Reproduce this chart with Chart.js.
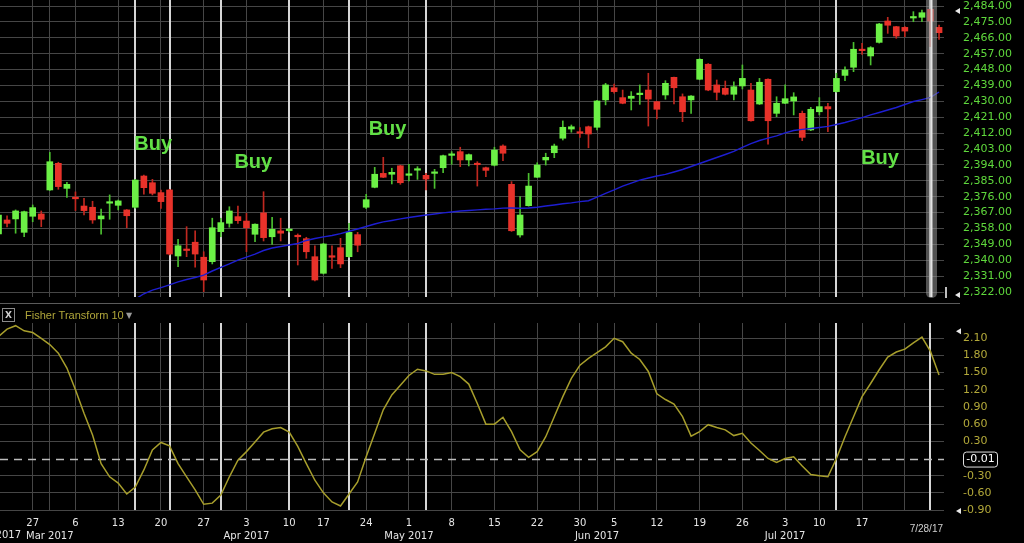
<!DOCTYPE html>
<html>
<head>
<meta charset="utf-8">
<script src="https://cdn.jsdelivr.net/npm/chart.js@4.4.1/dist/chart.umd.min.js"></script>
<style>
  html, body { margin: 0; padding: 0; background: #000; }
  #wrap { position: relative; width: 1024px; height: 543px; overflow: hidden; background: #000; }
  #priceChart { position: absolute; left: 0; top: 0; }
  #fisherChart { position: absolute; left: 0; top: 300px; }
</style>
</head>
<body>
<div id="wrap">
  <canvas id="priceChart" width="1024" height="300"></canvas>
  <canvas id="fisherChart" width="1024" height="243"></canvas>
</div>
<script>
// ---- data ----
const YEAR = 2017;

const tradingDays = [
  '2/21','2/22','2/23','2/24','2/27','2/28',
  '3/1','3/2','3/3','3/6','3/7','3/8','3/9','3/10','3/13','3/14','3/15','3/16','3/17',
  '3/20','3/21','3/22','3/23','3/24','3/27','3/28','3/29','3/30','3/31',
  '4/3','4/4','4/5','4/6','4/7','4/10','4/11','4/12','4/13','4/17','4/18','4/19','4/20','4/21',
  '4/24','4/25','4/26','4/27','4/28',
  '5/1','5/2','5/3','5/4','5/5','5/8','5/9','5/10','5/11','5/12','5/15','5/16','5/17','5/18','5/19',
  '5/22','5/23','5/24','5/25','5/26','5/30','5/31',
  '6/1','6/2','6/5','6/6','6/7','6/8','6/9','6/12','6/13','6/14','6/15','6/16',
  '6/19','6/20','6/21','6/22','6/23','6/26','6/27','6/28','6/29','6/30',
  '7/3','7/5','7/6','7/7','7/10','7/11','7/12','7/13','7/14','7/17','7/18','7/19','7/20','7/21',
  '7/24','7/25','7/26','7/27','7/28'
];

const opens = [
  2354.9, 2362.8, 2363.4, 2355.8, 2364.9, 2366.2, 2379.8, 2394.9, 2380.7, 2375.3,
  2370.7, 2370.0, 2363.4, 2372.3, 2371.1, 2368.5, 2370.0, 2387.7, 2383.9, 2378.3,
  2379.8, 2342.4, 2346.0, 2350.2, 2341.7, 2339.2, 2356.2, 2360.9, 2364.7, 2362.2,
  2354.7, 2366.8, 2353.3, 2356.6, 2356.8, 2353.9, 2352.2, 2342.0, 2332.6, 2342.4,
  2347.1, 2342.0, 2354.5, 2370.0, 2381.3, 2389.2, 2388.7, 2393.5, 2388.1, 2391.0,
  2388.1, 2389.2, 2392.4, 2399.4, 2401.5, 2396.8, 2394.9, 2392.4, 2393.8, 2404.7,
  2383.0, 2354.3, 2370.9, 2387.0, 2396.8, 2400.9, 2409.1, 2414.3, 2412.8, 2415.6,
  2415.3, 2430.8, 2437.7, 2432.1, 2431.7, 2433.8, 2436.4, 2429.8, 2433.6, 2443.6,
  2432.6, 2430.8, 2442.5, 2451.0, 2439.3, 2437.4, 2434.0, 2438.7, 2436.4, 2428.5,
  2442.5, 2423.2, 2428.9, 2430.2, 2423.2, 2413.8, 2424.1, 2427.0, 2435.5, 2444.7,
  2449.3, 2459.5, 2455.7, 2463.4, 2475.5, 2472.3, 2471.9, 2477.2, 2477.6, 2482.1,
  2471.9
];
const highs = [
  2366.8, 2365.1, 2368.5, 2367.9, 2371.3, 2367.9, 2401.1, 2395.5, 2384.1, 2378.7,
  2375.1, 2373.4, 2369.0, 2377.0, 2374.1, 2368.7, 2385.8, 2388.3, 2385.8, 2379.8,
  2380.2, 2351.9, 2359.0, 2356.7, 2344.8, 2363.8, 2363.8, 2370.3, 2370.7, 2366.6,
  2360.6, 2378.8, 2364.3, 2363.8, 2357.8, 2354.9, 2353.0, 2348.1, 2349.6, 2348.1,
  2352.4, 2360.9, 2355.8, 2377.3, 2392.6, 2398.3, 2392.1, 2393.8, 2394.3, 2393.0,
  2389.2, 2391.5, 2399.5, 2401.5, 2404.0, 2400.2, 2395.8, 2392.8, 2404.0, 2405.3,
  2384.5, 2376.0, 2389.2, 2395.2, 2400.6, 2405.8, 2418.9, 2416.6, 2415.1, 2416.0,
  2430.6, 2440.2, 2439.8, 2436.4, 2435.5, 2439.3, 2445.9, 2430.0, 2441.7, 2443.8,
  2434.2, 2433.2, 2454.2, 2451.4, 2442.1, 2441.5, 2441.1, 2450.6, 2440.2, 2443.0,
  2442.8, 2432.6, 2439.3, 2434.9, 2424.5, 2426.6, 2432.1, 2428.9, 2445.9, 2449.6,
  2463.4, 2462.9, 2461.0, 2474.2, 2477.6, 2472.5, 2472.3, 2480.8, 2481.7, 2482.3,
  2473.2
];
const lows = [
  2353.7, 2358.8, 2355.3, 2353.3, 2361.8, 2359.0, 2379.5, 2380.2, 2375.6, 2368.1,
  2365.6, 2360.9, 2354.7, 2363.2, 2368.5, 2358.4, 2369.5, 2377.4, 2377.0, 2369.4,
  2343.0, 2336.3, 2342.0, 2336.0, 2322.2, 2337.9, 2353.3, 2358.7, 2360.9, 2344.8,
  2350.5, 2350.9, 2349.0, 2350.9, 2356.0, 2337.3, 2341.1, 2328.3, 2332.2, 2335.4,
  2335.8, 2341.7, 2344.8, 2369.2, 2381.0, 2386.8, 2383.2, 2383.0, 2384.9, 2385.8,
  2379.8, 2380.7, 2389.6, 2394.3, 2393.0, 2393.4, 2382.0, 2387.3, 2393.4, 2396.4,
  2356.3, 2353.0, 2370.6, 2386.8, 2393.9, 2398.1, 2408.1, 2412.5, 2409.6, 2403.7,
  2413.8, 2428.0, 2434.6, 2428.6, 2425.1, 2428.3, 2416.0, 2420.0, 2431.2, 2428.5,
  2418.5, 2423.2, 2442.2, 2436.0, 2430.8, 2433.6, 2430.8, 2437.0, 2418.7, 2428.2,
  2405.8, 2421.3, 2428.7, 2422.3, 2407.7, 2413.4, 2422.3, 2412.8, 2435.2, 2441.7,
  2446.8, 2456.6, 2450.6, 2463.0, 2468.5, 2465.7, 2466.6, 2475.1, 2475.1, 2461.0,
  2465.1
];
const closes = [
  2365.6, 2360.9, 2367.9, 2367.5, 2369.8, 2363.2, 2395.8, 2381.7, 2383.0, 2374.8,
  2368.1, 2362.8, 2365.1, 2373.0, 2373.6, 2365.2, 2385.4, 2381.1, 2377.9, 2373.2,
  2343.5, 2348.2, 2345.5, 2343.5, 2328.8, 2358.4, 2361.3, 2367.9, 2362.4, 2358.4,
  2360.4, 2352.8, 2357.5, 2355.3, 2357.3, 2353.3, 2344.8, 2328.8, 2349.2, 2341.7,
  2337.9, 2355.8, 2348.5, 2374.3, 2388.7, 2387.0, 2389.8, 2383.9, 2388.8, 2391.5,
  2386.0, 2389.9, 2399.2, 2400.0, 2396.8, 2399.8, 2394.1, 2390.9, 2402.4, 2400.6,
  2356.7, 2365.6, 2382.0, 2393.9, 2398.3, 2404.7, 2415.3, 2415.6, 2411.9, 2411.5,
  2430.2, 2439.3, 2435.5, 2428.9, 2432.9, 2434.6, 2431.3, 2425.5, 2440.2, 2437.7,
  2424.1, 2433.0, 2453.8, 2436.4, 2435.1, 2434.0, 2438.3, 2443.0, 2419.0, 2440.8,
  2419.0, 2428.9, 2431.5, 2432.5, 2409.6, 2425.5, 2427.0, 2425.7, 2443.0, 2447.8,
  2459.5, 2458.7, 2460.4, 2473.8, 2473.1, 2467.0, 2469.8, 2477.9, 2480.2, 2475.5,
  2468.9
];

// moving average (blue), starts on 3/15
const movingAvg = [
  null, null, null, null, null, null, null, null, null, null,
  null, null, null, null, null, null, 2318.0, 2321.0, 2323.1, 2324.5,
  2326.0, 2327.7, 2329.1, 2330.2, 2331.6, 2333.9, 2335.9, 2337.9, 2340.1, 2341.8,
  2343.5, 2345.5, 2346.9, 2347.8, 2348.6, 2349.5, 2351.2, 2352.3, 2353.2, 2354.0,
  2355.1, 2356.4, 2357.7, 2359.1, 2360.5, 2361.7, 2362.5, 2363.4, 2364.2, 2364.9,
  2365.6, 2366.2, 2366.8, 2367.3, 2367.9, 2368.2, 2368.5, 2368.9, 2369.1, 2369.5,
  2369.6, 2369.4, 2369.6, 2370.0, 2370.7, 2371.3, 2372.0, 2372.5, 2373.2, 2373.7,
  2375.8, 2377.9, 2379.8, 2382.0, 2383.7, 2385.4, 2386.6, 2387.7, 2388.6, 2390.0,
  2391.4, 2393.1, 2394.8, 2396.5, 2398.2, 2399.9, 2401.6, 2403.9, 2406.0, 2407.8,
  2409.2, 2410.4, 2412.1, 2413.5, 2414.1, 2414.6, 2415.2, 2415.8, 2416.9, 2418.0,
  2419.4, 2420.8, 2422.3, 2423.7, 2425.1, 2426.5, 2428.2, 2429.9, 2431.0, 2432.2,
  2435.3
];

// Fisher Transform 10
const fisher = [
  2.13, 2.26, 2.32, 2.23, 2.20, 2.10, 1.99, 1.84, 1.58, 1.20,
  0.79, 0.41, -0.09, -0.32, -0.43, -0.62, -0.50, -0.20, 0.15, 0.28,
  0.22, -0.09, -0.32, -0.55, -0.80, -0.78, -0.64, -0.32, -0.03, 0.12,
  0.29, 0.46, 0.52, 0.54, 0.46, 0.21, -0.09, -0.38, -0.60, -0.76,
  -0.83, -0.62, -0.41, 0.03, 0.44, 0.85, 1.11, 1.28, 1.45, 1.56,
  1.53, 1.47, 1.47, 1.50, 1.43, 1.30, 0.96, 0.60, 0.60, 0.72,
  0.47, 0.15, 0.02, 0.12, 0.38, 0.73, 1.08, 1.40, 1.63, 1.75,
  1.85, 1.95, 2.10, 2.04, 1.84, 1.73, 1.52, 1.13, 1.03, 0.95,
  0.73, 0.39, 0.47, 0.59, 0.54, 0.50, 0.40, 0.44, 0.27, 0.14,
  0.00, -0.07, 0.00, 0.03, -0.13, -0.28, -0.30, -0.32, 0.00, 0.38,
  0.73, 1.08, 1.31, 1.55, 1.77, 1.86, 1.91, 2.02, 2.12, 1.87,
  1.46
];

const priceTicks = [2322, 2331, 2340, 2349, 2358, 2367, 2376, 2385, 2394, 2403,
  2412, 2421, 2430, 2439, 2448, 2457, 2466, 2475, 2484];
const fisherTicks = [-0.9, -0.6, -0.3, 0.3, 0.6, 0.9, 1.2, 1.5, 1.8, 2.1];
const fisherRefLevel = -0.01;

const signalDays = ['3/15', '3/21', '3/29', '4/10', '4/20', '5/3', '7/12', '7/27'];
const cursorDay = '7/27';
const buyText = 'Buy';
const endDateLabel = '7/28/17';
const monthNames = ['Jan', 'Feb', 'Mar', 'Apr', 'May', 'Jun', 'Jul', 'Aug', 'Sep', 'Oct', 'Nov', 'Dec'];

// ---- look ----
const GREEN = '#6cf046';
const RED = '#e8322a';
const GREEN_WICK = '#4cc030';
const RED_WICK = '#c02820';
const GRID = '#464646';
const SIGNAL = '#d6d6d6';
const FISHER_COL = '#a79e2c';
const AXIS_W = 80;
const X_MIN = 0.175, X_MAX = 110.58;

// ---- helpers ----
function dateOf(s) {
    const [m, d] = s.split('/').map(Number);
    return new Date(YEAR, m - 1, d);
}

let weekStarts = [];
let monthStarts = [];
for (let i = 1; i < tradingDays.length; i++) {
    const a = dateOf(tradingDays[i - 1]);
    const b = dateOf(tradingDays[i]);
    if (b.getDay() < a.getDay()) weekStarts.push(i);
    if (b.getMonth() !== a.getMonth()) monthStarts.push(i);
}
const gridDays = [...new Set([...weekStarts, ...monthStarts])].sort((a, b) => a - b);
const signalIdx = signalDays.map(d => tradingDays.indexOf(d));
const cursorIdx = tradingDays.indexOf(cursorDay);

const isUp = i => closes[i] >= opens[i];

const bodies = tradingDays.map((d, i) => ({ x: i, y: [Math.min(opens[i], closes[i]), Math.max(opens[i], closes[i])] }));
const wicks = tradingDays.map((d, i) => ({ x: i, y: [lows[i], highs[i]] }));
const maPoints = movingAvg.map((v, i) => ({ x: i, y: v })).filter(p => p.y !== null);
const fisherPoints = fisher.map((v, i) => ({ x: i, y: v }));

function noPad(s) {
    s.paddingTop = 0; s.paddingBottom = 0; s.paddingLeft = 0; s.paddingRight = 0;
}

function fixedTicks(list) {
    return s => { s.ticks = list.map(v => ({ value: v })); };
}

function drawSignals(chart) {
    const { ctx, chartArea: a, scales: { x } } = chart;
    ctx.save();
    ctx.strokeStyle = SIGNAL;
    ctx.lineWidth = 2;
    signalIdx.forEach(i => {
        const px = Math.round(x.getPixelForValue(i));
        ctx.beginPath();
        ctx.moveTo(px, a.top);
        ctx.lineTo(px, a.bottom);
        ctx.stroke();
    });
    ctx.restore();
}

function leftTriangle(ctx, x, y) {
    ctx.beginPath();
    ctx.moveTo(x, y);
    ctx.lineTo(x + 5, y - 3);
    ctx.lineTo(x + 5, y + 3);
    ctx.closePath();
    ctx.fill();
}

// "Buy" notes anchored in data units (index, price)
const buyNotes = [
    { i: 18.1, p: 2405.3 },
    { i: 29.8, p: 2395.1 },
    { i: 45.5, p: 2413.8 },
    { i: 103.1, p: 2397.9 }
];

const pricePanelPlugin = {
    id: 'pricePanel',
    beforeDatasetsDraw(chart) {
        drawSignals(chart);
    },
    afterDraw(chart) {
        const { ctx, chartArea: a, scales: { x, y } } = chart;
        ctx.save();

        // cursor band on the last signal
        const cx = x.getPixelForValue(cursorIdx) + 1;
        ctx.fillStyle = 'rgba(150, 150, 150, 0.55)';
        ctx.beginPath();
        ctx.roundRect(cx - 5.5, a.top - 6, 11, a.bottom - a.top + 7, 5);
        ctx.fill();
        ctx.strokeStyle = '#e4e4e4';
        ctx.lineWidth = 2;
        ctx.beginPath();
        ctx.moveTo(cx, a.top);
        ctx.lineTo(cx, a.bottom);
        ctx.stroke();

        // Buy labels
        ctx.fillStyle = '#62e046';
        ctx.font = 'bold 20px "Liberation Sans", Arial, sans-serif';
        ctx.textAlign = 'center';
        ctx.textBaseline = 'middle';
        buyNotes.forEach(n => ctx.fillText(buyText, x.getPixelForValue(n.i), y.getPixelForValue(n.p)));

        // axis markers
        ctx.fillStyle = '#e8e8e8';
        leftTriangle(ctx, 955, y.getPixelForValue(priceTicks[priceTicks.length - 1]) + 5);
        leftTriangle(ctx, 955, y.getPixelForValue(priceTicks[0]) + 3);
        ctx.fillStyle = '#bdbdbd';
        ctx.fillRect(945, 287, 2, 11);
        ctx.restore();
    }
};

const fisherPanelPlugin = {
    id: 'fisherPanel',
    beforeDatasetsDraw(chart) {
        const { ctx, chartArea: a, scales: { y } } = chart;
        drawSignals(chart);
        const py = Math.round(y.getPixelForValue(fisherRefLevel)) + 0.5;
        ctx.save();
        ctx.strokeStyle = '#bdbdbd';
        ctx.lineWidth = 1.5;
        ctx.setLineDash([8, 6]);
        ctx.beginPath();
        ctx.moveTo(a.left, py);
        ctx.lineTo(a.right, py);
        ctx.stroke();
        ctx.restore();
    },
    afterDraw(chart) {
        const { ctx, chartArea: a, scales: { y } } = chart;
        ctx.save();

        // panel separator and header
        ctx.strokeStyle = '#5a5a5a';
        ctx.lineWidth = 1;
        ctx.beginPath();
        ctx.moveTo(0, 3.5);
        ctx.lineTo(960, 3.5);
        ctx.stroke();

        ctx.strokeStyle = '#8a8a8a';
        ctx.strokeRect(2.5, 8.5, 12, 13);
        ctx.fillStyle = '#cfcfcf';
        ctx.font = 'bold 9px "DejaVu Sans", sans-serif';
        ctx.textAlign = 'center';
        ctx.textBaseline = 'middle';
        ctx.fillText('X', 8.5, 15.5);

        ctx.textAlign = 'left';
        ctx.fillStyle = '#b0a63a';
        ctx.font = '11px "Liberation Sans", Arial, sans-serif';
        ctx.fillText('Fisher Transform 10', 25, 16);
        ctx.fillStyle = '#9a9a9a';
        ctx.font = '8px "DejaVu Sans", sans-serif';
        ctx.fillText('\u25BC', 126, 16);

        // reference value box
        const py = y.getPixelForValue(fisherRefLevel);
        ctx.fillStyle = '#000';
        ctx.strokeStyle = '#e0e0e0';
        ctx.beginPath();
        ctx.roundRect(963.5, py - 7, 34, 15, 3);
        ctx.fill();
        ctx.stroke();
        ctx.fillStyle = '#ffffff';
        ctx.font = '11px "DejaVu Sans", sans-serif';
        ctx.textAlign = 'center';
        ctx.fillText(fisherRefLevel.toFixed(2), 980.5, py + 0.5);

        // axis markers
        ctx.fillStyle = '#e8e8e8';
        leftTriangle(ctx, 956, y.getPixelForValue(fisherTicks[fisherTicks.length - 1]) - 7);
        leftTriangle(ctx, 956, a.bottom + 1);

        // end date and the clipped month name at the far left
        ctx.fillStyle = '#d0d0d0';
        ctx.font = '10px "Liberation Sans", Arial, sans-serif';
        ctx.textAlign = 'right';
        ctx.fillText(endDateLabel, 943, 229);
        const first = dateOf(tradingDays[0]);
        ctx.fillStyle = '#e6e6e6';
        ctx.font = '10px "DejaVu Sans", sans-serif';
        ctx.fillText(monthNames[first.getMonth()] + ' ' + YEAR, 21, 235);
        ctx.restore();
    }
};

// ---- price panel ----
new Chart(document.getElementById('priceChart'), {
    type: 'bar',
    data: {
        datasets: [
            {
                type: 'line',
                label: 'Moving average',
                data: maPoints,
                borderColor: '#1e1ed2',
                borderWidth: 1.4,
                pointRadius: 0,
                tension: 0,
                order: 0
            },
            {
                label: 'Body',
                data: bodies,
                backgroundColor: ctx => isUp(ctx.dataIndex) ? GREEN : RED,
                barThickness: 6,
                grouped: false,
                minBarLength: 1.5,
                order: 1
            },
            {
                label: 'Wick',
                data: wicks,
                backgroundColor: ctx => isUp(ctx.dataIndex) ? GREEN_WICK : RED_WICK,
                barThickness: 1,
                grouped: false,
                order: 2
            }
        ]
    },
    options: {
        responsive: false,
        animation: false,
        events: [],
        layout: { autoPadding: false, padding: { top: 0, left: 0, right: 0, bottom: 3 } },
        plugins: { legend: { display: false }, tooltip: { enabled: false } },
        scales: {
            x: {
                type: 'linear',
                min: X_MIN,
                max: X_MAX,
                offset: false,
                afterBuildTicks: fixedTicks(gridDays),
                afterFit: s => { s.height = 0; noPad(s); },
                grid: { color: GRID, drawTicks: false, offset: false },
                border: { display: false },
                ticks: { display: false }
            },
            y: {
                type: 'linear',
                position: 'right',
                min: 2319.17,
                max: 2487.4,
                afterBuildTicks: fixedTicks(priceTicks),
                afterFit: s => { s.width = AXIS_W; noPad(s); },
                grid: { color: GRID, drawTicks: false },
                border: { display: false },
                ticks: {
                    autoSkip: false,
                    color: '#5fd83c',
                    padding: 19,
                    font: { family: 'DejaVu Sans', size: 11 },
                    callback: v => v.toLocaleString('en-US', { minimumFractionDigits: 2, maximumFractionDigits: 2 })
                }
            }
        }
    },
    plugins: [pricePanelPlugin]
});

// ---- Fisher panel ----
new Chart(document.getElementById('fisherChart'), {
    type: 'line',
    data: {
        datasets: [{
            label: 'Fisher Transform 10',
            data: fisherPoints,
            borderColor: FISHER_COL,
            borderWidth: 1.5,
            pointRadius: 0,
            tension: 0,
            xAxisID: 'x'
        }]
    },
    options: {
        responsive: false,
        animation: false,
        events: [],
        layout: { autoPadding: false, padding: { top: 23, left: 0, right: 0, bottom: 2 } },
        plugins: { legend: { display: false }, tooltip: { enabled: false } },
        scales: {
            x: {
                type: 'linear',
                position: 'bottom',
                min: X_MIN,
                max: X_MAX,
                offset: false,
                afterBuildTicks: fixedTicks(weekStarts),
                afterFit: s => { s.height = 18; noPad(s); },
                grid: { color: GRID, drawTicks: false, offset: false },
                border: { display: false },
                ticks: {
                    autoSkip: false,
                    maxRotation: 0,
                    color: '#e6e6e6',
                    padding: 7,
                    font: { family: 'DejaVu Sans', size: 10 },
                    // the last week label gives way to the end date
                    callback: (v, k, t) => k === t.length - 1 ? '' : String(dateOf(tradingDays[v]).getDate())
                }
            },
            xm: {
                type: 'linear',
                axis: 'x',
                position: 'bottom',
                min: X_MIN,
                max: X_MAX,
                offset: false,
                afterBuildTicks: fixedTicks(monthStarts),
                afterFit: s => { s.height = 13; noPad(s); },
                grid: { color: GRID, drawTicks: false, offset: false },
                border: { display: false },
                ticks: {
                    autoSkip: false,
                    maxRotation: 0,
                    color: '#e6e6e6',
                    padding: 2,
                    font: { family: 'DejaVu Sans', size: 10 },
                    callback: v => monthNames[dateOf(tradingDays[v]).getMonth()] + ' ' + YEAR
                }
            },
            y: {
                type: 'linear',
                position: 'right',
                min: -0.9,
                max: 2.367,
                afterBuildTicks: fixedTicks(fisherTicks),
                afterFit: s => { s.width = AXIS_W; noPad(s); },
                grid: { color: GRID, drawTicks: false },
                border: { display: false },
                ticks: {
                    autoSkip: false,
                    color: '#b3a93a',
                    padding: 19,
                    font: { family: 'DejaVu Sans', size: 11 },
                    callback: v => v.toFixed(2)
                }
            }
        }
    },
    plugins: [fisherPanelPlugin]
});
</script>
</body>
</html>
